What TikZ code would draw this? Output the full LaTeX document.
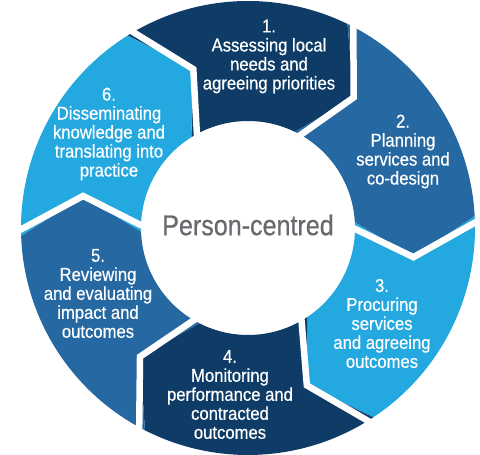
\documentclass[tikz,border=0pt]{standalone}
\usepackage{fontspec}
\setmainfont{Liberation Sans}[FakeStretch=0.9, FakeBold=0.5]
\newfontfamily\bigfont{Liberation Sans}[FakeStretch=0.88, FakeBold=0.6]
\definecolor{navy}{RGB}{14,60,102}
\definecolor{midblue}{RGB}{38,104,162}
\definecolor{lightblue}{RGB}{36,168,224}
\definecolor{centregray}{RGB}{104,105,110}
\begin{document}
\begin{tikzpicture}[x=1pt,y=1pt,
  segtext/.style={text=white, align=center, inner sep=0pt, font=\fontsize{18.5}{19}\selectfont},
  gapline/.style={white, line width=6.5pt, line join=miter}]
\useasboundingbox (0,0) rectangle (480,455);
\begin{scope}[shift={(248,227)}]
  \foreach \a/\b/\c in {122/64/navy, 64/3/midblue, 3/-56.5/lightblue, -56.5/-117/navy, -117/-178/midblue, -178/-238/lightblue}{
    \pgfmathsetmacro{\ta}{\a-13}
    \pgfmathsetmacro{\tb}{\b-13}
    \fill[\c] (\a:227) arc[start angle=\a, end angle=\b, radius=227] -- (\tb:168) -- (\b:107)
      arc[start angle=\b, end angle=\a, radius=107] -- (\ta:168) -- cycle;
  }
  \foreach \a in {122,64,3,-56.5,-117,-178}{
    \pgfmathsetmacro{\ta}{\a-13}
    \draw[gapline] (\a:240) -- (\ta:168) -- (\a:95);
  }
\end{scope}
\node[segtext] (s1) at (269,398.5) {1.\\Assessing local\\needs and\\agreeing priorities};
\node[segtext] (s2) at (403,303.5) {2.\\Planning\\services and\\co-design};
\node[segtext] (s3) at (382,131.5) {3.\\Procuring\\services\\and agreeing\\outcomes};
\node[segtext] (s4) at (230,60.5) {4.\\Monitoring\\performance and\\contracted\\outcomes};
\node[segtext] (s5) at (98,161.5) {5.\\Reviewing\\and evaluating\\impact and\\outcomes};
\node[segtext] (s6) at (109,321) {6.\\Disseminating\\knowledge and\\translating into\\practice};
\node[text=centregray, font=\bigfont\fontsize{28.5}{30}\selectfont] (pc) at (248,230) {Person-centred};
\end{tikzpicture}
\end{document}
